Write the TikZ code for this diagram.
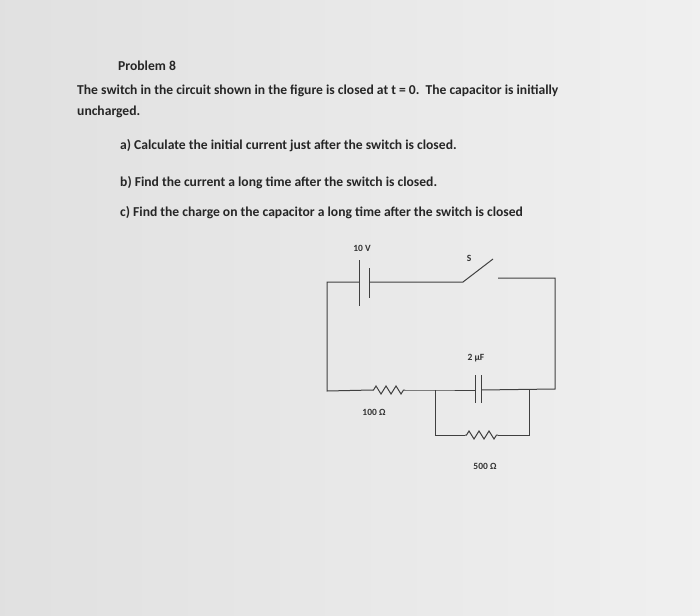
\documentclass[tikz,border=0pt]{standalone}
\usepackage{fontspec}
\setmainfont{Carlito}
\usetikzlibrary{decorations.pathmorphing}
\begin{document}
\begin{tikzpicture}[x=1pt,y=-1pt,
  wire/.style={draw=black!75,line width=1pt},
  res/.style={wire,decorate,decoration={zigzag,segment length=10pt,amplitude=4pt,pre length=1.5pt,post length=1.5pt}},
  txt/.style={anchor=west,inner sep=0pt,font=\bfseries\fontsize{13.6}{16}\selectfont,text=black!85},
  lbl/.style={inner sep=0pt,font=\bfseries\fontsize{9.5}{11}\selectfont,text=black!80}]
\fill[left color=black!12,right color=black!6] (0,0) rectangle (700,615);
\useasboundingbox (0,0) rectangle (700,615);
\node[txt] (title) at (118,66) {Problem 8};
\node[txt] (p1) at (77,91) {The switch in the circuit shown in the figure is closed at t = 0.\ \ The capacitor is initially};
\node[txt] (p2) at (77,112) {uncharged.};
\node[txt] (a) at (120,146) {a) Calculate the initial current just after the switch is closed.};
\node[txt] (b) at (120,183) {b) Find the current a long time after the switch is closed.};
\node[txt] (c) at (120,213) {c) Find the charge on the capacitor a long time after the switch is closed};
\coordinate (tl) at (327,282);
\coordinate (bl) at (327,391);
\coordinate (bp1) at (359,282);
\coordinate (bp2) at (369,282);
\coordinate (sw) at (463,282);
\coordinate (swe) at (493,259);
\coordinate (rs) at (498,278);
\coordinate (tr) at (555,278);
\coordinate (br) at (555,389);
\coordinate (r1a) at (372,390);
\coordinate (r1b) at (405,390);
\coordinate (j1) at (435,390);
\coordinate (c1) at (475,390);
\coordinate (c2) at (481,390);
\coordinate (j2) at (529,389);
\coordinate (lb1) at (435,435);
\coordinate (lb2) at (529,435);
\coordinate (r2a) at (465,435);
\coordinate (r2b) at (498,435);
\path[wire] (bp1) -- (tl) -- (bl) -- (r1a);
\path[res] (r1a) -- (r1b);
\path[wire] (r1b) -- (j1) -- (c1);
\path[wire] (bp1 |- 0,260) -- (bp1 |- 0,306);
\path[wire] (bp2 |- 0,268) -- (bp2 |- 0,298);
\path[wire] (bp2) -- (sw) -- (swe);
\path[wire] (rs) -- (tr) -- (br) -- (c2);
\path[wire] (c1 |- 0,375) -- (c1 |- 0,403);
\path[wire] (c2 |- 0,375) -- (c2 |- 0,403);
\path[wire] (j1) -- (lb1) -- (r2a);
\path[res] (r2a) -- (r2b);
\path[wire] (r2b) -- (lb2) -- (j2);
\node[lbl] (l1) at (362,248) {10 V};
\node[lbl] (l2) at (469,258) {S};
\node[lbl] (l3) at (476,358) {2 µF};
\node[lbl] (l4) at (374,412) {100 Ω};
\node[lbl] (l5) at (485,466) {500 Ω};
\end{tikzpicture}
\end{document}
